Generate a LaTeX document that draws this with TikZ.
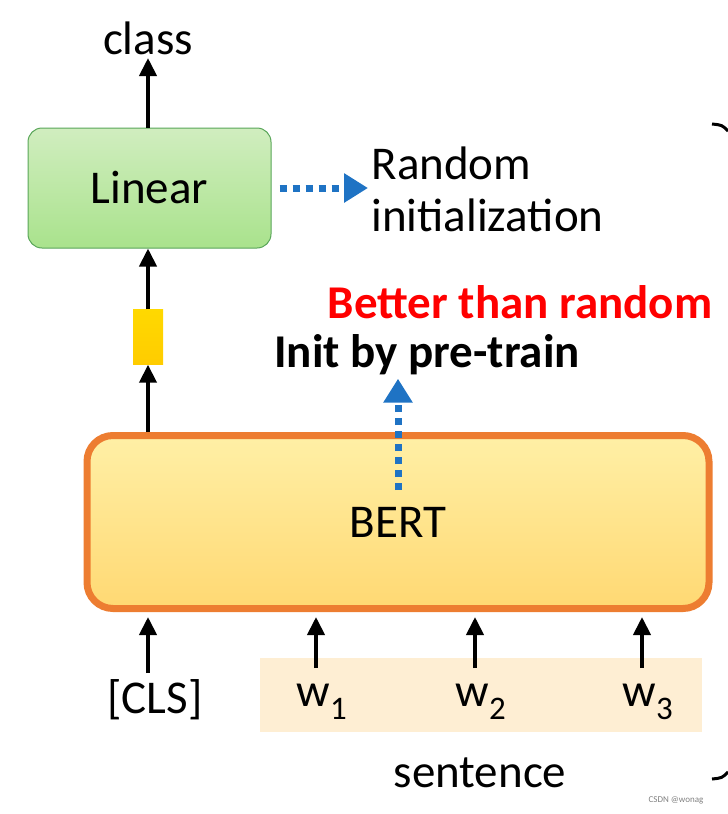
\documentclass[tikz,border=0pt]{standalone}
\usepackage{fontspec}
\setmainfont{Carlito}
\usetikzlibrary{arrows.meta}
\definecolor{bluedot}{HTML}{1F73C4}
\definecolor{orangeline}{HTML}{ED7D31}
\newcommand\bigtxt{\fontsize{47}{52}\selectfont}
\begin{document}
\begin{tikzpicture}[x=1pt,y=-1pt,
  up/.style={line width=4pt, -{Triangle[length=18pt,width=17pt]}},
  dots/.style={bluedot, line width=7pt, dash pattern=on 7pt off 6pt, -{Triangle[length=24pt,width=28pt]}},
  txt/.style={font=\bigtxt}]
\useasboundingbox (0,0) rectangle (728,814);

%%%%%%%%%%%%%%%%%%%%%%%%%%%%%%%%%%%%%%%%%%%%%%%%%%%%%%%%%%%%%%%%%%%%%%%%

\fill [yellow!20!orange!15] (260,658) rectangle (702,732);

\node [draw=green!30!gray, line width=1pt, rounded corners=14pt, top color=green!45!olive!25, bottom color=green!50!olive!45,
  minimum width=243pt, minimum height=120pt] (linear) at (149.5,188) {\bigtxt Linear};
\node [draw=orangeline, line width=7pt, rounded corners=26pt, top color=orange!35!yellow!35, bottom color=orange!55!yellow!55,
  minimum width=622pt, minimum height=173pt] (bert) at (398,522) {\bigtxt BERT};
\node [top color=yellow!70!orange, bottom color=yellow!60!orange, minimum width=30pt, minimum height=55pt, inner sep=0pt] (vec) at (148,337) {};

\node [txt] (class) at (148,38) {class};
\node [txt, align=left, anchor=west] (rand) at (368,189) {Random\\initialization};
\node [font=\bfseries\bigtxt, text=red] (better) at (520,302) {Better than random};
\node [font=\bfseries\bigtxt] (init) at (427,355) {Init by pre-train};

\draw [up] (linear.north -| vec) -- (vec |- class.south);
\draw [up] (vec.north) -- (linear.south -| vec);
\draw [up] (bert.north -| vec) -- (vec.south);
\draw [dots] (linear.east) ++(8,0) coordinate (d1) -- (d1 -| rand.west);
\draw [dots] (398,490) coordinate (d2) -- (init.south -| d2);

%%%%%%%%%%%%%%%%%%%%%%%%%%%%%%%%%%%%%%%%%%%%%%%%%%%%%%%%%%%%%%%%%%%%%%%%

\node [txt] (cls) at (155,700) {[CLS]};
\node [txt] (w1) at (322,702) {w\textsubscript{1}};
\node [txt] (w2) at (481,702) {w\textsubscript{2}};
\node [txt] (w3) at (648,702) {w\textsubscript{3}};
\draw [up] (148,673) -- (148,617);
\draw [up] (316,668) -- (316,617);
\draw [up] (475,668) -- (475,617);
\draw [up] (642,668) -- (642,617);
\node [txt] (sent) at (480,773) {sentence};

\draw [line width=3pt] (712,124) .. controls (722,125) .. (728,131);
\draw [line width=3pt] (712,779) .. controls (722,778) .. (728,772);
\node [text=gray, font=\fontsize{9}{10}\selectfont] (csdn) at (676,800) {CSDN @wonag};

\end{tikzpicture}
\end{document}
